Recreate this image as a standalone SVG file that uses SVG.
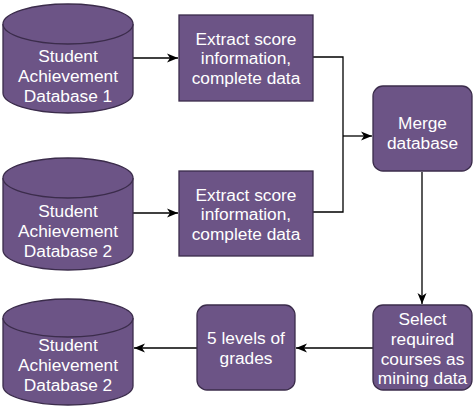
<svg xmlns="http://www.w3.org/2000/svg" width="474" height="406" viewBox="0 0 474 406">
<defs>
<style>
.n{fill:#6c5486;stroke:#3b2c4b;stroke-width:1.3}
.t{fill:#ffffff;font-family:"Liberation Sans",Arial,sans-serif;font-size:17.3px;text-anchor:middle}
.c{fill:none;stroke:#000;stroke-width:1.3}
</style>
<marker id="ar" markerWidth="12" markerHeight="10" refX="11" refY="5" orient="auto" markerUnits="userSpaceOnUse">
<path d="M0,0.5 L11,5 L0,9.5 L3,5 Z" fill="#000"/>
</marker>
</defs>
<rect width="474" height="406" fill="#ffffff"/>
<g id="connectors">
<path class="c" d="M133,58 L178,58" marker-end="url(#ar)"/>
<path class="c" d="M133,213 L178,213" marker-end="url(#ar)"/>
<path class="c" d="M313,57 L343,57 L343,212 L313,212"/>
<path class="c" d="M343,136 L372,136" marker-end="url(#ar)"/>
<path class="c" d="M422,172 L422,304" marker-end="url(#ar)"/>
<path class="c" d="M373,348 L296,348" marker-end="url(#ar)"/>
<path class="c" d="M197,348 L134,348" marker-end="url(#ar)"/>
</g>
<g id="db1">
<path class="n" d="M3,24 A65,20 0 0 1 133,24 L133,93 A65,20 0 0 1 3,93 Z"/>
<path class="n" d="M3,24 A65,20 0 0 0 133,24"/>
<text class="t" x="68" y="62">Student</text>
<text class="t" x="68" y="82">Achievement</text>
<text class="t" x="68" y="102">Database 1</text>
</g>
<g id="db2">
<path class="n" d="M3,178 A65,20 0 0 1 133,178 L133,250 A65,20 0 0 1 3,250 Z"/>
<path class="n" d="M3,178 A65,20 0 0 0 133,178"/>
<text class="t" x="68" y="217">Student</text>
<text class="t" x="68" y="237">Achievement</text>
<text class="t" x="68" y="257">Database 2</text>
</g>
<g id="extract1">
<rect class="n" x="179" y="15" width="134" height="86"/>
<text class="t" x="246" y="45">Extract score</text>
<text class="t" x="246" y="64">information,</text>
<text class="t" x="246" y="84">complete data</text>
</g>
<g id="extract2">
<rect class="n" x="179" y="171" width="134" height="85"/>
<text class="t" x="246" y="201">Extract score</text>
<text class="t" x="246" y="220">information,</text>
<text class="t" x="246" y="240">complete data</text>
</g>
<g id="merge">
<rect class="n" x="373" y="86" width="99" height="85" rx="10"/>
<text class="t" x="422.5" y="129">Merge</text>
<text class="t" x="422.5" y="149">database</text>
</g>
<g id="select">
<rect class="n" x="373" y="305" width="99" height="85" rx="10"/>
<text class="t" x="422.5" y="325">Select</text>
<text class="t" x="422.5" y="345">required</text>
<text class="t" x="422.5" y="365">courses as</text>
<text class="t" x="422.5" y="384">mining data</text>
</g>
<g id="levels">
<rect class="n" x="197" y="305" width="98" height="85" rx="10"/>
<text class="t" x="246" y="344">5 levels of</text>
<text class="t" x="246" y="364">grades</text>
</g>
<g id="db3">
<path class="n" d="M3,318 A65,19 0 0 1 133,318 L133,386 A65,19 0 0 1 3,386 Z"/>
<path class="n" d="M3,318 A65,19 0 0 0 133,318"/>
<text class="t" x="68" y="351">Student</text>
<text class="t" x="68" y="371">Achievement</text>
<text class="t" x="68" y="391">Database 2</text>
</g>
</svg>
